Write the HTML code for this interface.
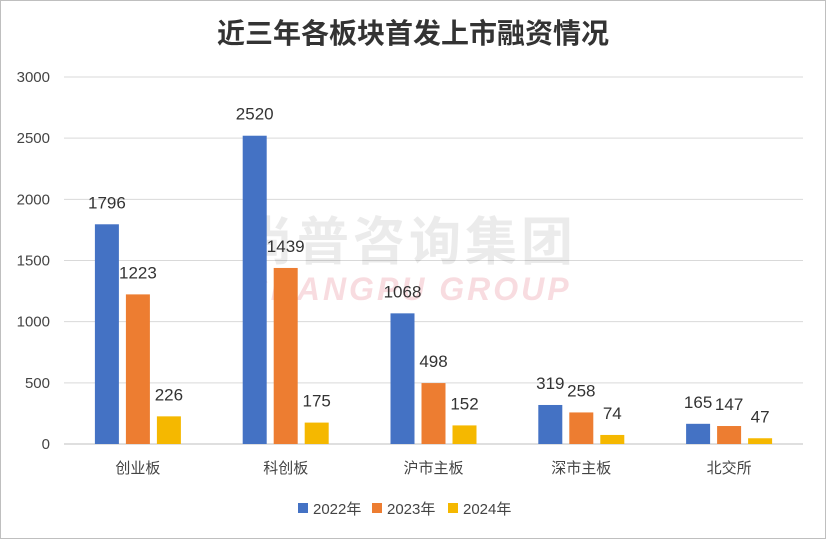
<!DOCTYPE html>
<html><head><meta charset="utf-8"><style>
body{margin:0;background:#fff;}
svg text{font-family:"Liberation Sans","Noto Sans CJK SC",sans-serif;}
</style></head><body>
<svg width="826" height="539" viewBox="0 0 826 539">
<rect x="0.5" y="0.5" width="825" height="538" fill="#fff" stroke="#bfbfbf"/>
<text x="413" y="43" text-anchor="middle" font-size="28" font-weight="bold" fill="#333">近三年各板块首发上市融资情况</text>
<g id="grid"></g><g id="yt"></g>
<text x="409" y="260" text-anchor="middle" font-size="52" font-weight="bold" fill="#000" fill-opacity="0.08" letter-spacing="4">尚普咨询集团</text>
<text x="409" y="300" text-anchor="middle" font-size="32" font-style="italic" font-weight="bold" fill="#e06070" fill-opacity="0.22" letter-spacing="3">SHANGPU GROUP</text>
<g id="bars"></g><g id="xt"></g><g id="legend"></g>
</svg>
<script>
const categories=["创业板","科创板","沪市主板","深市主板","北交所"];
const seriesNames=["2022年","2023年","2024年"];
const s2022=[1796,2520,1068,319,165];
const s2023=[1223,1439,498,258,147];
const s2024=[226,175,152,74,47];
const yTicks=[0,500,1000,1500,2000,2500,3000];
const colors=["#4472c4","#ed7d31","#f5b800"];
const series=[s2022,s2023,s2024];
const NS="http://www.w3.org/2000/svg";
const x0=64,x1=803,y0=444,y1=77,yMax=3000;
const y=v=>y0-(v/yMax)*(y0-y1);
const gw=(x1-x0)/categories.length;
const cx=i=>x0+gw*(i+0.5);
function mk(t,a,p){const e=document.createElementNS(NS,t);for(const k in a)e.setAttribute(k,a[k]);p.appendChild(e);return e;}
const grid=document.getElementById('grid'),yt=document.getElementById('yt');
yTicks.forEach(v=>{
 const l=mk('line',{x1:x0,x2:x1,y1:y(v),y2:y(v),stroke:v===0?'#bfbfbf':'#d9d9d9','stroke-width':1},grid);
 
 
 const t=mk('text',{x:50,y:y(v)+5,'text-anchor':'end','font-size':15,fill:'#444'},yt);
 t.textContent=v;
 
 
});
const bars=document.getElementById('bars'),xt=document.getElementById('xt');
const bw=24,off=31;
categories.forEach((c,i)=>{
 series.forEach((s,j)=>{
  const bx=cx(i)+(j-1)*off-bw/2;
  const r=mk('rect',{x:bx,y:y(s[i]),width:bw,height:y0-y(s[i]),fill:colors[j]},bars);
  
  
  const t=mk('text',{x:bx+bw/2,y:y(s[i])-16,'text-anchor':'middle','font-size':17,fill:'#333'},bars);
  t.textContent=s[i];
  
  
 });
 const t=mk('text',{x:cx(i),y:473,'text-anchor':'middle','font-size':15,fill:'#444'},xt);
 t.textContent=c;
 
 
});
const lg=document.getElementById('legend');
const lx=[298,372,448];
seriesNames.forEach((n,j)=>{
 const r=mk('rect',{x:lx[j],y:503,width:10,height:10,fill:colors[j]},lg);
 
 
 const t=mk('text',{x:lx[j]+15,y:514,'font-size':15,fill:'#444'},lg);
 t.textContent=n;
 
 
});
</script>
</body></html>
